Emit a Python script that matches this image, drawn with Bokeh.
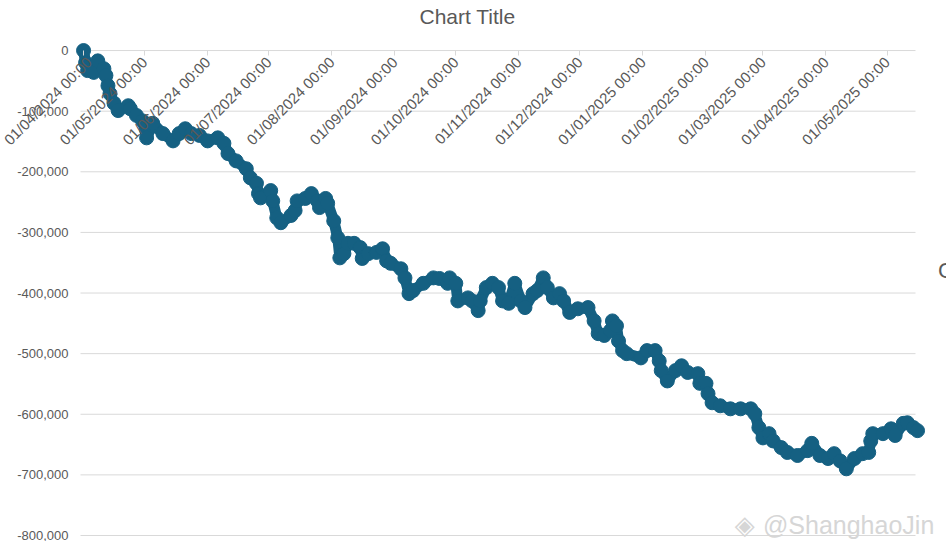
import numpy as np
import pandas as pd
from bokeh.plotting import figure
from bokeh.models import Range1d, FixedTicker, NumeralTickFormatter, DatetimeTickFormatter, Label
from bokeh.embed import file_html
from bokeh.resources import INLINE

# ---- data ----
dates = [
    "2024-04-01", "2024-04-02", "2024-04-03", "2024-04-06", "2024-04-08", "2024-04-11",
    "2024-04-12", "2024-04-13", "2024-04-14", "2024-04-16", "2024-04-18", "2024-04-23",
    "2024-04-24", "2024-04-27", "2024-04-30", "2024-05-02", "2024-05-05", "2024-05-10",
    "2024-05-15", "2024-05-18", "2024-05-21", "2024-05-24", "2024-05-28", "2024-06-01",
    "2024-06-06", "2024-06-09", "2024-06-11", "2024-06-15", "2024-06-20", "2024-06-22",
    "2024-06-25", "2024-06-26", "2024-06-27", "2024-07-02", "2024-07-03", "2024-07-05",
    "2024-07-07", "2024-07-12", "2024-07-14", "2024-07-15", "2024-07-19", "2024-07-22",
    "2024-07-25", "2024-07-26", "2024-07-29", "2024-07-30", "2024-08-02", "2024-08-04",
    "2024-08-05", "2024-08-07", "2024-08-09", "2024-08-12", "2024-08-15", "2024-08-16",
    "2024-08-19", "2024-08-23", "2024-08-26", "2024-08-28", "2024-08-30", "2024-09-04",
    "2024-09-06", "2024-09-08", "2024-09-10", "2024-09-15", "2024-09-20", "2024-09-23",
    "2024-09-27", "2024-09-28", "2024-10-01", "2024-10-02", "2024-10-07", "2024-10-09",
    "2024-10-12", "2024-10-13", "2024-10-16", "2024-10-19", "2024-10-22", "2024-10-24",
    "2024-10-27", "2024-10-30", "2024-11-02", "2024-11-04", "2024-11-08", "2024-11-10",
    "2024-11-13", "2024-11-15", "2024-11-18", "2024-11-21", "2024-11-23", "2024-11-26",
    "2024-11-30", "2024-12-05", "2024-12-08", "2024-12-10", "2024-12-13", "2024-12-16",
    "2024-12-17", "2024-12-19", "2024-12-20", "2024-12-22", "2024-12-24", "2024-12-31",
    "2025-01-03", "2025-01-07", "2025-01-09", "2025-01-10", "2025-01-13", "2025-01-17",
    "2025-01-20", "2025-01-23", "2025-01-28", "2025-01-29", "2025-02-01", "2025-02-02",
    "2025-02-04", "2025-02-08", "2025-02-13", "2025-02-18", "2025-02-23", "2025-02-25",
    "2025-02-27", "2025-03-01", "2025-03-04", "2025-03-06", "2025-03-10", "2025-03-13",
    "2025-03-18", "2025-03-23", "2025-03-25", "2025-03-29", "2025-04-02", "2025-04-05",
    "2025-04-08", "2025-04-11", "2025-04-15", "2025-04-19", "2025-04-22", "2025-04-23",
    "2025-04-24", "2025-04-29", "2025-05-03", "2025-05-05", "2025-05-09", "2025-05-11",
    "2025-05-14", "2025-05-16",
]
values = [
    0, -20000, -33000, -36000, -17000, -30000,
    -41000, -58000, -71000, -87000, -99000, -91000,
    -96000, -107000, -116000, -144000, -120000, -137000,
    -149000, -137000, -129000, -137000, -140000, -149000,
    -144000, -153000, -170000, -182000, -195000, -210000,
    -219000, -236000, -243000, -231000, -248000, -276000,
    -284000, -272000, -264000, -248000, -244000, -236000,
    -248000, -259000, -244000, -252000, -281000, -309000,
    -342000, -335000, -318000, -318000, -325000, -343000,
    -335000, -333000, -327000, -347000, -351000, -360000,
    -375000, -401000, -396000, -384000, -375000, -376000,
    -384000, -375000, -384000, -413000, -408000, -413000,
    -429000, -413000, -391000, -384000, -391000, -413000,
    -417000, -384000, -413000, -424000, -401000, -396000,
    -375000, -391000, -408000, -401000, -413000, -432000,
    -426000, -424000, -446000, -467000, -470000, -462000,
    -446000, -454000, -479000, -495000, -500000, -507000,
    -495000, -495000, -512000, -528000, -545000, -528000,
    -520000, -531000, -533000, -549000, -549000, -566000,
    -581000, -586000, -591000, -591000, -591000, -599000,
    -622000, -639000, -632000, -644000, -655000, -663000,
    -668000, -660000, -648000, -668000, -673000, -665000,
    -677000, -690000, -673000, -665000, -663000, -644000,
    -632000, -632000, -624000, -635000, -615000, -614000,
    -622000, -627000,
]
tick_dates = [
    "2024-04-01", "2024-05-01", "2024-06-01", "2024-07-01", "2024-08-01",
    "2024-09-01", "2024-10-01", "2024-11-01", "2024-12-01", "2025-01-01",
    "2025-02-01", "2025-03-01", "2025-04-01", "2025-05-01",
]
y_ticks = [0, -100000, -200000, -300000, -400000, -500000, -600000, -700000, -800000]

TEXT = "#595959"
GRID = "#d9d9d9"
LINE = "#156082"
FONT = "Liberation Sans"

W, H = 946, 541
# plot area (inner box) in pixels and its data extent
PA_LEFT, PA_RIGHT, PA_TOP, PA_BOTTOM = 80, 915, 44, 535
X0 = pd.Timestamp("2024-03-30 12:00")
X1 = pd.Timestamp("2025-05-15")
Y0, Y1 = -800000, 10000

px_per_day = (PA_RIGHT - PA_LEFT) / ((X1 - X0) / pd.Timedelta(days=1))
px_per_unit = (PA_BOTTOM - PA_TOP) / (Y1 - Y0)
x_start = X0 - pd.Timedelta(days=PA_LEFT / px_per_day)
x_end = X1 + pd.Timedelta(days=(W - PA_RIGHT) / px_per_day)
y_end = Y1 + PA_TOP / px_per_unit
y_start = Y0 - (H - PA_BOTTOM) / px_per_unit

def ms(t):
    return pd.Timestamp(t).value / 1e6

x = pd.to_datetime(dates)
tick_ms = [ms(d) for d in tick_dates]

p = figure(
    width=W, height=H,
    x_axis_type="datetime",
    x_range=Range1d(x_start, x_end),
    y_range=Range1d(y_start, y_end),
    output_backend="svg", toolbar_location=None,
    min_border=0,
)
p.outline_line_color = None
p.background_fill_color = "white"
p.border_fill_color = "white"
p.xgrid.visible = False
p.ygrid.visible = False

# horizontal gridlines limited to the plot area
p.segment(x0=[X0] * len(y_ticks), x1=[X1] * len(y_ticks), y0=y_ticks, y1=y_ticks,
          line_color=GRID, line_width=1)

# y axis (labels only), placed at the plot area's left edge
p.yaxis.fixed_location = ms(X0)
p.yaxis.ticker = FixedTicker(ticks=y_ticks)
p.yaxis.formatter = NumeralTickFormatter(format="0,0")
p.yaxis.axis_line_color = None
p.yaxis.major_tick_line_color = None
p.yaxis.minor_tick_line_color = None
p.yaxis.major_tick_out = 0
p.yaxis.major_tick_in = 0
p.yaxis.major_label_standoff = 12
p.yaxis.major_label_text_font = FONT
p.yaxis.major_label_text_font_size = "13px"
p.yaxis.major_label_text_color = TEXT

# x axis crossing at zero
fmt = "%d/%m/%Y %H:%M"
p.xaxis.fixed_location = 0
p.xaxis.ticker = FixedTicker(ticks=tick_ms)
p.xaxis.formatter = DatetimeTickFormatter(
    milliseconds=fmt, seconds=fmt, minsec=fmt, minutes=fmt, hourmin=fmt, hours=fmt,
    days=fmt, months=fmt, years=fmt, strip_leading_zeros=False,
)
p.xaxis.major_label_orientation = np.pi / 4
p.xaxis.axis_line_color = None
p.xaxis.major_tick_line_color = GRID
p.xaxis.minor_tick_line_color = None
p.xaxis.major_tick_out = 5
p.xaxis.major_tick_in = 0
p.xaxis.major_label_standoff = 4
p.xaxis.major_label_text_font = FONT
p.xaxis.major_label_text_font_size = "15px"
p.xaxis.major_label_text_color = TEXT

p.line(x, values, line_width=11, line_color=LINE, line_join="round", line_cap="round")
p.scatter(x, values, size=14, fill_color=LINE, line_color=LINE)

# title
title_x = ms(X0) + (467 - PA_LEFT) / px_per_day * 86400000
title_y = Y1 + (PA_TOP - 16) / px_per_unit
p.add_layout(Label(x=title_x, y=title_y, text="Chart Title", text_font=FONT, text_font_size="21px",
                   text_color=TEXT, text_align="center", text_baseline="middle"))

# watermark
p.add_layout(Label(x=ms("2025-02-20"), y=-783000, text="◈", text_font="DejaVu Sans",
                   text_font_size="26px", text_color="#d6d6d6", text_align="center",
                   text_baseline="middle"))
p.add_layout(Label(x=ms("2025-03-01"), y=-783000, text="@ShanghaoJin", text_font=FONT,
                   text_font_size="25px", text_color="#d6d6d6", text_align="left",
                   text_baseline="middle"))

# cut-off text at the right edge
p.add_layout(Label(x=ms("2025-05-26"), y=-363000, text="C", text_font=FONT, text_font_size="22px",
                   text_color=TEXT, text_align="left", text_baseline="middle"))

open("out.html", "w").write(file_html(p, INLINE))
